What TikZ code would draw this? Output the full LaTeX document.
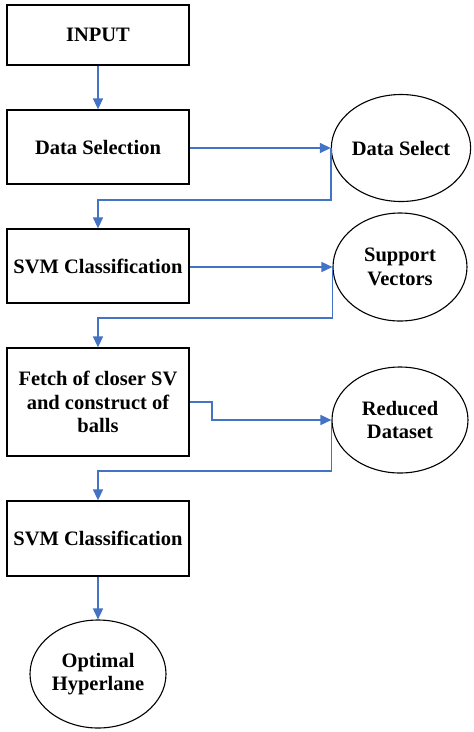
\documentclass[tikz,border=0pt]{standalone}
\usepackage{fontspec}
\setmainfont{Liberation Serif}
\usetikzlibrary{arrows.meta,shapes.geometric}
\definecolor{flowblue}{HTML}{4472C4}
\tikzset{
  procbox/.style={draw=black, line width=1.3pt, rectangle, minimum width=182pt, inner sep=0pt, align=center, font=\fontsize{20.5}{23.5}\selectfont\bfseries},
  databall/.style={draw=black, line width=1.1pt, ellipse, inner sep=0pt, align=center, font=\fontsize{20.5}{23.5}\selectfont\bfseries},
  flow/.style={draw=flowblue, line width=1.5pt, -{Triangle[width=10pt,length=11pt]}}
}
\begin{document}
\begin{tikzpicture}[x=1pt,y=-1pt]
\useasboundingbox (0,0) rectangle (474,732);
\node[procbox, minimum height=60pt] (in) at (98,35) {INPUT};
\node[procbox, minimum height=74pt] (ds) at (98,147) {Data Selection};
\node[procbox, minimum height=74pt] (svm1) at (98,266) {SVM Classification};
\node[procbox, minimum height=108pt] (fetch) at (98,402) {Fetch of closer SV\\and construct of\\balls};
\node[procbox, minimum height=75pt] (svm2) at (98,538.5) {SVM Classification};
\node[databall, minimum width=136pt, minimum height=107pt] (e1) at (401,148) {Data Select};
\node[databall, minimum width=134pt, minimum height=108pt] (e2) at (400,267) {Support\\Vectors};
\node[databall, minimum width=136pt, minimum height=106pt] (e3) at (400,420) {Reduced\\Dataset};
\node[databall, minimum width=136pt, minimum height=108pt] (e4) at (98,674) {Optimal\\Hyperlane};
\coordinate (t1) at (98,200);
\coordinate (t2) at (98,318);
\coordinate (t3) at (212,420);
\coordinate (t4) at (98,471);
\draw[flow] (in.south) -- (ds.north);
\draw[flow] (ds.east |- e1.west) -- (e1.west);
\draw[flow] (e1.west) -- (e1.west |- t1) -- (t1) -- (svm1.north);
\draw[flow] (svm1.east |- e2.west) -- (e2.west);
\draw[flow] (e2.west) -- (e2.west |- t2) -- (t2) -- (fetch.north);
\draw[flow] (fetch.east) -- (t3 |- fetch.east) -- (t3) -- (e3.west);
\draw[flow] (e3.west) -- (e3.west |- t4) -- (t4) -- (svm2.north);
\draw[flow] (svm2.south) -- (e4.north);
\end{tikzpicture}
\end{document}
